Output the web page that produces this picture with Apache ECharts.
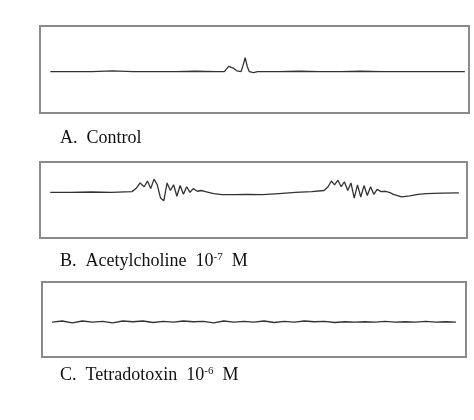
<!DOCTYPE html>
<html>
<head>
<meta charset="utf-8">
<script src="https://cdn.jsdelivr.net/npm/echarts@6/dist/echarts.min.js"></script>
<style>
  html, body { margin: 0; padding: 0; background: #fff; }
  #main { width: 474px; height: 420px; }
</style>
</head>
<body>
<div id="main"></div>
<script>
// trace A - control
var xA = [0, 5, 10, 15, 20, 25, 30, 35, 40, 42, 43, 44, 45, 46, 46.5, 47, 47.5, 48, 49, 50, 55, 60, 65, 70, 75, 80, 85, 90, 95, 100];
var yA = [0, 0, 0, 0.2, 0, 0, 0, 0.1, 0, 0, 1.2, 0.9, 0.2, 0, 1.5, 3.2, 1.2, 0, -0.2, 0, 0, 0.1, 0, 0, 0.1, 0, 0, 0, 0, 0];
// trace B - acetylcholine
var xB = [0, 5, 10, 15, 20, 21, 22, 23, 23.8, 24.6, 25.4, 26.2, 27, 27.8, 28.6, 29.4, 30.2, 31, 31.8, 32.6, 33.4, 34.2, 35, 36, 37, 38, 40, 42, 45, 48, 52, 56, 60, 64, 67, 68, 68.8, 69.6, 70.4, 71.2, 72, 72.8, 73.6, 74.4, 75.2, 76, 76.8, 77.6, 78.4, 79.2, 80, 81, 82, 83, 84, 86, 88, 90, 92, 96, 100];
var yB = [0, 0, 0.1, 0, 0.2, 1, 2.5, 1.5, 3, 1, 3.5, 2, -1.5, -2.2, 2.5, 0.5, 2, -1, 1.8, -0.5, 1.5, 0, 1, 0.3, 0.5, 0.2, -0.3, -0.6, -0.6, -0.5, -0.6, -0.3, 0, 0.2, 0.5, 1.5, 3, 2, 3.2, 1.5, 2.8, 0.5, 2.5, -1.5, 2, -1.2, 1.8, -0.8, 1.5, -0.5, 0.8, 0.2, 0.3, 0, -0.5, -1.2, -0.9, -0.5, -0.3, -0.2, -0.1];
// trace C - tetrodotoxin (evenly sampled)
var yC = [0, 0.3, -0.2, 0.3, 0, 0.2, -0.2, 0.3, 0.1, 0.3, -0.1, 0.2, 0, 0.3, 0.1, 0.2, -0.2, 0.3, 0, 0.2, 0, 0.3, -0.1, 0.2, 0, 0.3, 0.1, 0.2, -0.1, 0.1, 0, 0.1, 0, 0.2, 0, 0.1, 0, 0.2, 0, 0.1, 0];

var pairs = function(xs, ys) {
  return xs.map(function(x, i) { return [x, ys[i]]; });
};

var chart = echarts.init(document.getElementById('main'));
var lineStyle = { color: '#333', width: 1.3 };
var serif = '"Liberation Serif", "DejaVu Serif", serif';

var grids = [
  { left: 40, width: 429, top: 26, height: 87 },
  { left: 40, width: 427, top: 162, height: 76 },
  { left: 42, width: 424, top: 282, height: 75 }
];

var option = {
  animation: false,
  grid: grids.map(function(g) {
    return Object.assign({ show: true, borderColor: '#8a8a8a', borderWidth: 2, backgroundColor: '#fff' }, g);
  }),
  xAxis: [
    { gridIndex: 0, type: 'value', min: -2.5, max: 101, show: false },
    { gridIndex: 1, type: 'value', min: -2.5, max: 102, show: false },
    { gridIndex: 2, type: 'value', min: -1, max: 41, show: false }
  ],
  yAxis: [
    { gridIndex: 0, type: 'value', min: -9.5, max: 10.5, show: false },
    { gridIndex: 1, type: 'value', min: -12, max: 8, show: false },
    { gridIndex: 2, type: 'value', min: -9.3, max: 10.7, show: false }
  ],
  series: [
    { type: 'line', xAxisIndex: 0, yAxisIndex: 0, data: pairs(xA, yA), showSymbol: false, lineStyle: lineStyle },
    { type: 'line', xAxisIndex: 1, yAxisIndex: 1, data: pairs(xB, yB), showSymbol: false, lineStyle: lineStyle },
    { type: 'line', xAxisIndex: 2, yAxisIndex: 2, data: yC.map(function(v, i) { return [i, v]; }), showSymbol: false, lineStyle: lineStyle }
  ],
  graphic: [
    { type: 'text', left: 60, top: 129, style: { text: 'A.  Control', font: '18px ' + serif, fill: '#111' } },
    { type: 'text', left: 60, top: 252, style: {
      text: '{n|B.  Acetylcholine  10}{s|-7}{n|  M}',
      rich: { n: { font: '18px ' + serif, fill: '#111' }, s: { font: '11px ' + serif, fill: '#111', verticalAlign: 'top', padding: [0, 0, 8, 0] } }
    } },
    { type: 'text', left: 60, top: 366, style: {
      text: '{n|C.  Tetradotoxin  10}{s|-6}{n|  M}',
      rich: { n: { font: '18px ' + serif, fill: '#111' }, s: { font: '11px ' + serif, fill: '#111', verticalAlign: 'top', padding: [0, 0, 8, 0] } }
    } }
  ]
};
chart.setOption(option);
</script>
</body>
</html>
